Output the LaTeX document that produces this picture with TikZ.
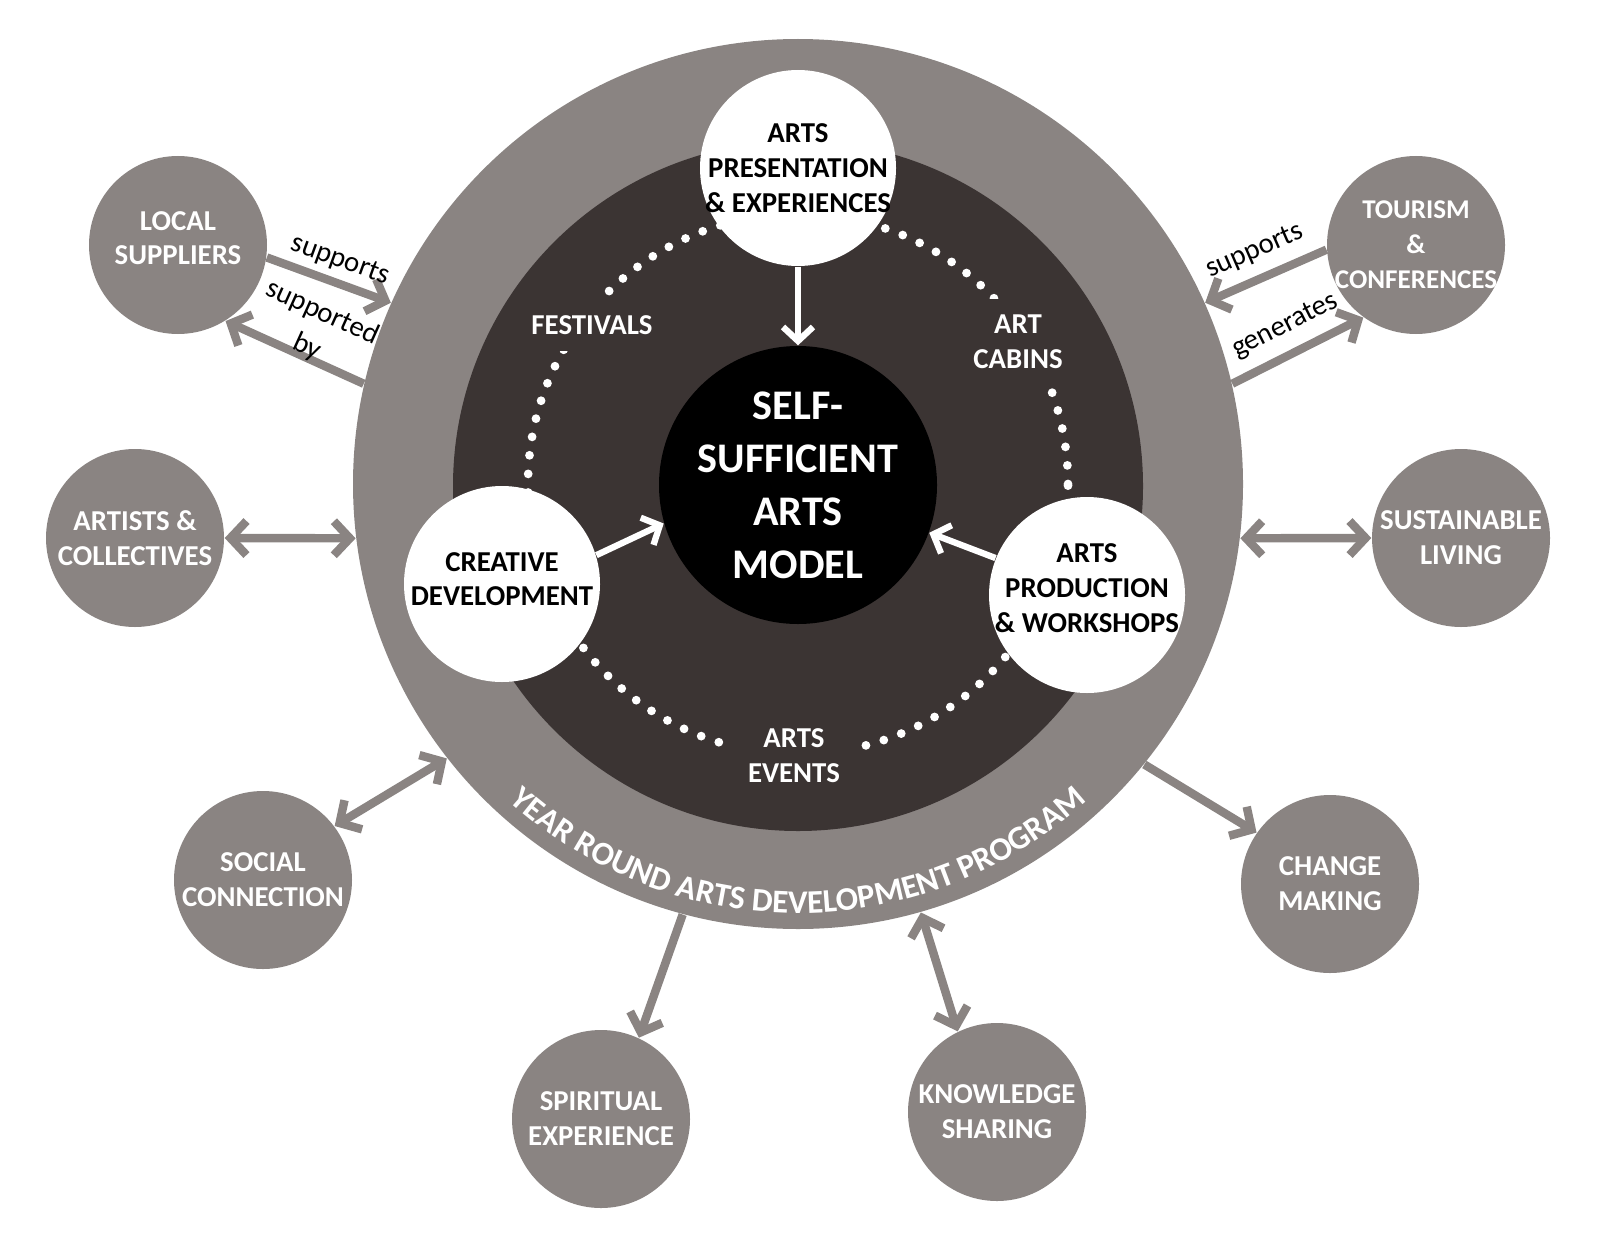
\documentclass[tikz,border=0pt]{standalone}
\usepackage{fontspec}
\setmainfont{Carlito}
\usetikzlibrary{arrows.meta,decorations.text}
\definecolor{ringgray}{HTML}{8A8482}
\definecolor{innerdark}{HTML}{3B3433}
\tikzset{font=\fontsize{8.2}{9.9}\selectfont\bfseries}
\tikzset{outer/.style={circle,fill=ringgray,text=white,align=center,inner sep=-3mm,minimum size=1.78cm}}
\tikzset{activity/.style={circle,fill=white,text=black,align=center,inner sep=-3mm,minimum size=1.96cm}}
\tikzset{strand/.style={fill=innerdark,text=white,align=center,inner sep=1.6mm}}
\tikzset{flow/.style={ringgray,line width=2.4pt,>={Straight Barb[length=1.6mm,width=3.4mm]}}}
\tikzset{inflow/.style={white,line width=1.8pt,>={Straight Barb[length=1.4mm,width=3mm]}}}
\tikzset{verb/.style={font=\fontsize{8.2}{10.6}\selectfont\mdseries,text=black,sloped,above=0pt,align=center}}

\begin{document}
\begin{tikzpicture}
\useasboundingbox (0,0) rectangle (16,-12.53);
% rings
\node[circle,fill=ringgray,minimum size=8.9cm] (R) at (7.98,-4.84) {};
\node[circle,fill=innerdark,minimum size=6.9cm] (I) at (7.98,-4.86) {};
\draw[white,line width=2.5pt,line cap=round,dash pattern=on 0pt off 5.3pt]
 (R.center) circle (2.7);
\path[decorate,decoration={text along path,text align=center,
 text={|\fontsize{9.4}{9.4}\selectfont\bfseries\color{white}|YEAR ROUND ARTS DEVELOPMENT PROGRAM}}]
 ([shift={(200:4.29)}]R.center) arc (200:340:4.29);
% core
\node[circle,fill=black,text=white,align=center,inner sep=-3mm,minimum size=2.78cm,
 font=\fontsize{12}{15.1}\selectfont\bfseries] (M) at (7.98,-4.85) {SELF-\\SUFFICIENT\\ARTS\\MODEL};
\node[activity] (P) at (7.98,-1.68) {ARTS\\PRESENTATION\\\& EXPERIENCES};
\node[activity,text depth=1mm] (C) at (5.02,-5.84) {CREATIVE\\DEVELOPMENT};
\node[activity,text depth=1.4mm] (W) at (10.87,-5.95) {ARTS\\PRODUCTION\\\& WORKSHOPS};
\node[strand] (F) at (5.92,-3.25) {FESTIVALS};
\node[strand] (AC) at (10.18,-3.42) {ART\\CABINS};
\node[strand,inner xsep=1.8mm] (AE) at (7.94,-7.56) {ARTS\\EVENTS};
% partners
\node[outer,text depth=1.4mm] (LS) at (1.78,-2.45) {LOCAL\\SUPPLIERS};
\node[outer,font=\fontsize{7.7}{9.9}\selectfont\bfseries] (TC) at (14.16,-2.45) {TOURISM\\\&\\CONFERENCES};
\node[outer] (AR) at (1.35,-5.38) {ARTISTS \&\\COLLECTIVES};
\node[outer] (SL) at (14.61,-5.38) {SUSTAINABLE\\LIVING};
\node[outer] (SO) at (2.63,-8.80) {SOCIAL\\CONNECTION};
\node[outer] (CM) at (13.30,-8.84) {CHANGE\\MAKING};
\node[outer] (SE) at (6.01,-11.19) {SPIRITUAL\\EXPERIENCE};
\node[outer] (KS) at (9.97,-11.12) {KNOWLEDGE\\SHARING};
\path[inflow,->]
(P.south) edge (M.north)
(C.17) edge (M.196)
(W.158) edge (M.-20);
\path[flow,->]
(LS.-8) edge node[verb,above=-0.5mm,pos=0.53] {supports} (R.156)
(R.167) edge node[verb,above=-1.8mm,pos=0.44] {supported\\by} (LS.-58)
(TC.183) edge node[verb] {supports} (R.24)
(R.13.5) edge node[verb] {generates} (TC.-126)
(R.-39) edge (CM.145)
(R.-105) edge (SE.65);
\path[flow,<->]
(AR.0) edge (R.187)
(R.-7) edge (SL.180)
(SO.37) edge (R.218)
(R.-74) edge (KS.116);
\end{tikzpicture}
\end{document}
